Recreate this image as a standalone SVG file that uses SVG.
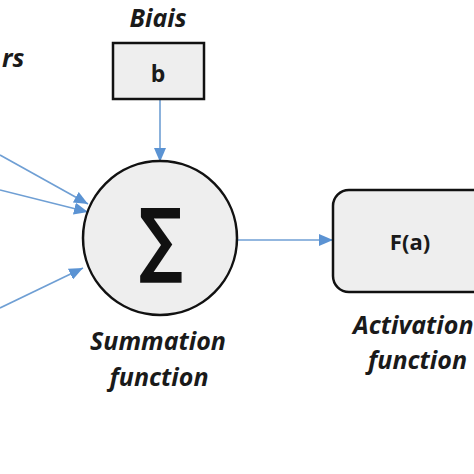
<svg xmlns="http://www.w3.org/2000/svg" width="474" height="474" viewBox="0 0 474 474">
<style>
.lbl{font-family:"Open Sans","Liberation Sans",sans-serif;font-weight:bold;font-style:italic;fill:#1a1a1a;font-size:25px}
.in{font-family:"Open Sans","Liberation Sans",sans-serif;font-weight:bold;fill:#1a1a1a}
.node{fill:#eeeeee;stroke:#111;stroke-width:2.5}
.edge{stroke:#6f9fd4;stroke-width:1.6;fill:none;marker-end:url(#ah)}
</style>
<defs>
<marker id="ah" viewBox="0 0 14 12" refX="14" refY="6" markerWidth="14" markerHeight="12" markerUnits="userSpaceOnUse" orient="auto">
<path d="M0,0 L14,6 L0,12 z" fill="#5b93d3"/>
</marker>
</defs>
<rect width="474" height="474" fill="#ffffff"/>
<g id="connectors">
<line class="edge" x1="160" y1="100" x2="160" y2="162"/>
<line class="edge" x1="0" y1="155" x2="88" y2="204"/>
<line class="edge" x1="0" y1="190" x2="88" y2="212"/>
<line class="edge" x1="0" y1="308" x2="83" y2="268"/>
<line class="edge" x1="238" y1="240" x2="333" y2="240"/>
</g>
<g id="inputs-label"><text class="lbl" x="2" y="67">rs</text></g>
<g id="bias">
<text class="lbl" x="158" y="27" text-anchor="middle">Biais</text>
<rect class="node" x="113" y="43" width="91" height="56"/>
<text class="in" x="158" y="82" text-anchor="middle" font-size="23">b</text>
</g>
<g id="summation">
<circle class="node" cx="160" cy="238" r="77"/>
<text transform="translate(161,267) scale(0.85,1.14)" text-anchor="middle" font-family="DejaVu Sans, sans-serif" font-weight="bold" font-size="72" fill="#111">∑</text>
<text class="lbl" x="158" y="350" text-anchor="middle">Summation</text>
<text class="lbl" x="159" y="386" text-anchor="middle">function</text>
</g>
<g id="activation">
<rect class="node" x="333" y="190" width="170" height="102" rx="16"/>
<text class="in" x="410" y="250" text-anchor="middle" font-size="22">F(a)</text>
<text class="lbl" x="353" y="334">Activation</text>
<text class="lbl" x="368" y="369">function</text>
</g>
</svg>
